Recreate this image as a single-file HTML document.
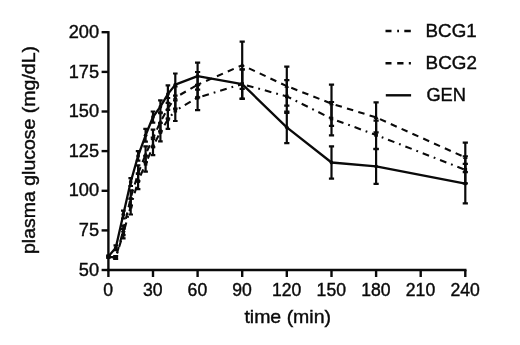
<!DOCTYPE html>
<html><head><meta charset="utf-8"><title>plasma glucose</title><style>html,body{margin:0;padding:0;background:#fff}body{width:520px;height:345px;overflow:hidden}</style></head><body>
<svg width="520" height="345" viewBox="0 0 520 345" style="display:block">
<rect width="520" height="345" fill="#fff"/>
<g fill="none" stroke="#0a0a0a" stroke-linejoin="round">
<g stroke-width="2.2"><rect x="106.3" y="254.6" width="4.2" height="4.2" fill="#0a0a0a" stroke="none"/><path d="M115.8 256.1V258.9M113.5 256.1h4.6M113.5 258.9h4.6"/><rect x="113.7" y="255.4" width="4.2" height="4.2" fill="#0a0a0a" stroke="none"/><path d="M123.3 228.8V238.3M121.0 228.8h4.6M121.0 238.3h4.6"/><rect x="121.5" y="231.7" width="3.6" height="3.6" fill="#0a0a0a" stroke="none"/><path d="M130.7 198.7V214.5M128.4 198.7h4.6M128.4 214.5h4.6"/><rect x="128.9" y="204.8" width="3.6" height="3.6" fill="#0a0a0a" stroke="none"/><path d="M138.1 173.3V189.2M135.8 173.3h4.6M135.8 189.2h4.6"/><rect x="136.3" y="179.4" width="3.6" height="3.6" fill="#0a0a0a" stroke="none"/><path d="M145.6 155.9V171.7M143.3 155.9h4.6M143.3 171.7h4.6"/><rect x="143.8" y="162.0" width="3.6" height="3.6" fill="#0a0a0a" stroke="none"/><path d="M153.0 137.7V155.1M150.7 137.7h4.6M150.7 155.1h4.6"/><rect x="151.2" y="144.6" width="3.6" height="3.6" fill="#0a0a0a" stroke="none"/><path d="M160.4 122.9V141.3M158.1 122.9h4.6M158.1 141.3h4.6"/><rect x="158.6" y="130.3" width="3.6" height="3.6" fill="#0a0a0a" stroke="none"/><path d="M167.9 109.9V128.9M165.6 109.9h4.6M165.6 128.9h4.6"/><rect x="166.1" y="117.6" width="3.6" height="3.6" fill="#0a0a0a" stroke="none"/><path d="M175.3 100.4V121.0M173.0 100.4h4.6M173.0 121.0h4.6"/><rect x="173.5" y="108.9" width="3.6" height="3.6" fill="#0a0a0a" stroke="none"/><path d="M197.6 84.9V110.2M195.0 84.9h5.2M195.0 110.2h5.2"/><rect x="195.8" y="95.8" width="3.6" height="3.6" fill="#0a0a0a" stroke="none"/><path d="M242.2 69.5V98.7M239.6 69.5h5.2M239.6 98.7h5.2"/><rect x="240.4" y="82.3" width="3.6" height="3.6" fill="#0a0a0a" stroke="none"/><path d="M286.8 80.1V112.8M284.2 80.1h5.2M284.2 112.8h5.2"/><rect x="285.0" y="94.6" width="3.6" height="3.6" fill="#0a0a0a" stroke="none"/><path d="M331.5 102.0V135.3M328.9 102.0h5.2M328.9 135.3h5.2"/><rect x="329.7" y="116.8" width="3.6" height="3.6" fill="#0a0a0a" stroke="none"/><path d="M376.1 120.7V149.2M373.5 120.7h5.2M373.5 149.2h5.2"/><rect x="374.3" y="133.2" width="3.6" height="3.6" fill="#0a0a0a" stroke="none"/><path d="M465.3 156.4V183.3M462.7 156.4h5.2M462.7 183.3h5.2"/><rect x="463.5" y="168.0" width="3.6" height="3.6" fill="#0a0a0a" stroke="none"/><rect x="106.3" y="254.6" width="4.2" height="4.2" fill="#0a0a0a" stroke="none"/><path d="M115.8 256.1V258.9M113.5 256.1h4.6M113.5 258.9h4.6"/><rect x="113.7" y="255.4" width="4.2" height="4.2" fill="#0a0a0a" stroke="none"/><path d="M123.3 225.6V235.1M121.0 225.6h4.6M121.0 235.1h4.6"/><path d="M123.3 227.8l2.4 4.2h-4.8z" fill="#0a0a0a" stroke="none"/><path d="M130.7 190.3V205.5M128.4 190.3h4.6M128.4 205.5h4.6"/><path d="M130.7 195.3l2.4 4.2h-4.8z" fill="#0a0a0a" stroke="none"/><path d="M138.1 165.4V181.2M135.8 165.4h4.6M135.8 181.2h4.6"/><path d="M138.1 170.7l2.4 4.2h-4.8z" fill="#0a0a0a" stroke="none"/><path d="M145.6 146.4V162.2M143.3 146.4h4.6M143.3 162.2h4.6"/><path d="M145.6 151.7l2.4 4.2h-4.8z" fill="#0a0a0a" stroke="none"/><path d="M153.0 129.7V147.2M150.7 129.7h4.6M150.7 147.2h4.6"/><path d="M153.0 135.8l2.4 4.2h-4.8z" fill="#0a0a0a" stroke="none"/><path d="M160.4 112.3V131.3M158.1 112.3h4.6M158.1 131.3h4.6"/><path d="M160.4 119.2l2.4 4.2h-4.8z" fill="#0a0a0a" stroke="none"/><path d="M167.9 98.0V118.6M165.6 98.0h4.6M165.6 118.6h4.6"/><path d="M167.9 105.7l2.4 4.2h-4.8z" fill="#0a0a0a" stroke="none"/><path d="M175.3 86.5V108.6M173.0 86.5h4.6M173.0 108.6h4.6"/><path d="M175.3 95.0l2.4 4.2h-4.8z" fill="#0a0a0a" stroke="none"/><path d="M197.6 72.0V97.4M195.0 72.0h5.2M195.0 97.4h5.2"/><path d="M197.6 82.1l2.4 4.2h-4.8z" fill="#0a0a0a" stroke="none"/><path d="M242.2 41.6V88.8M239.6 41.6h5.2M239.6 88.8h5.2"/><path d="M242.2 62.6l2.4 4.2h-4.8z" fill="#0a0a0a" stroke="none"/><path d="M286.8 66.6V105.6M284.2 66.6h5.2M284.2 105.6h5.2"/><path d="M286.8 83.5l2.4 4.2h-4.8z" fill="#0a0a0a" stroke="none"/><path d="M331.5 84.6V125.8M328.9 84.6h5.2M328.9 125.8h5.2"/><path d="M331.5 101.0l2.4 4.2h-4.8z" fill="#0a0a0a" stroke="none"/><path d="M376.1 102.3V132.4M373.5 102.3h5.2M373.5 132.4h5.2"/><path d="M376.1 114.8l2.4 4.2h-4.8z" fill="#0a0a0a" stroke="none"/><path d="M465.3 142.7V172.2M462.7 142.7h5.2M462.7 172.2h5.2"/><path d="M465.3 154.9l2.4 4.2h-4.8z" fill="#0a0a0a" stroke="none"/><circle cx="108.4" cy="256.4" r="1.9" fill="#0a0a0a" stroke="none"/><path d="M115.8 245.4V250.2M113.5 245.4h4.6M113.5 250.2h4.6"/><circle cx="115.8" cy="247.8" r="1.9" fill="#0a0a0a" stroke="none"/><path d="M123.3 210.6V218.5M121.0 210.6h4.6M121.0 218.5h4.6"/><circle cx="123.3" cy="214.5" r="1.9" fill="#0a0a0a" stroke="none"/><path d="M130.7 178.1V186.0M128.4 178.1h4.6M128.4 186.0h4.6"/><circle cx="130.7" cy="182.0" r="1.9" fill="#0a0a0a" stroke="none"/><path d="M138.1 151.1V160.6M135.8 151.1h4.6M135.8 160.6h4.6"/><circle cx="138.1" cy="155.9" r="1.9" fill="#0a0a0a" stroke="none"/><path d="M145.6 128.9V141.6M143.3 128.9h4.6M143.3 141.6h4.6"/><circle cx="145.6" cy="135.3" r="1.9" fill="#0a0a0a" stroke="none"/><path d="M153.0 111.5V122.6M150.7 111.5h4.6M150.7 122.6h4.6"/><circle cx="153.0" cy="117.0" r="1.9" fill="#0a0a0a" stroke="none"/><path d="M160.4 100.4V113.1M158.1 100.4h4.6M158.1 113.1h4.6"/><circle cx="160.4" cy="106.7" r="1.9" fill="#0a0a0a" stroke="none"/><path d="M167.9 85.3V102.8M165.6 85.3h4.6M165.6 102.8h4.6"/><circle cx="167.9" cy="94.1" r="1.9" fill="#0a0a0a" stroke="none"/><path d="M175.3 73.5V95.7M173.0 73.5h4.6M173.0 95.7h4.6"/><circle cx="175.3" cy="84.6" r="1.9" fill="#0a0a0a" stroke="none"/><path d="M197.6 62.7V89.6M195.0 62.7h5.2M195.0 89.6h5.2"/><circle cx="197.6" cy="76.2" r="1.9" fill="#0a0a0a" stroke="none"/><path d="M242.2 69.3V98.8M239.6 69.3h5.2M239.6 98.8h5.2"/><circle cx="242.2" cy="84.1" r="1.9" fill="#0a0a0a" stroke="none"/><path d="M286.8 111.5V143.2M284.2 111.5h5.2M284.2 143.2h5.2"/><circle cx="286.8" cy="127.3" r="1.9" fill="#0a0a0a" stroke="none"/><path d="M331.5 146.4V178.7M328.9 146.4h5.2M328.9 178.7h5.2"/><circle cx="331.5" cy="162.5" r="1.9" fill="#0a0a0a" stroke="none"/><path d="M376.1 148.9V183.8M373.5 148.9h5.2M373.5 183.8h5.2"/><circle cx="376.1" cy="166.3" r="1.9" fill="#0a0a0a" stroke="none"/><path d="M465.3 163.8V203.4M462.7 163.8h5.2M462.7 203.4h5.2"/><circle cx="465.3" cy="183.6" r="1.9" fill="#0a0a0a" stroke="none"/></g>
<g stroke-width="2.1"><polyline stroke-dasharray="6.8 5 1.8 5" points="108.4,256.7 115.8,257.5 123.3,233.5 130.7,206.6 138.1,181.2 145.6,163.8 153.0,146.4 160.4,132.1 167.9,119.4 175.3,110.7"/><path d="M175.3 110.7L197.6 97.6" stroke-dasharray="6.8 5 1.8 5" stroke-dashoffset="7.59"/><path d="M197.6 97.6L242.2 84.1" stroke-dasharray="6.8 5 1.8 5" stroke-dashoffset="13.61"/><path d="M242.2 84.1L286.8 96.4" stroke-dasharray="6.8 5 1.8 5" stroke-dashoffset="13.75"/><path d="M286.8 96.4L331.5 118.6" stroke-dasharray="6.8 5 1.8 5" stroke-dashoffset="2.00"/><path d="M331.5 118.6L376.1 135.0" stroke-dasharray="6.8 5 1.8 5" stroke-dashoffset="12.65"/><path d="M376.1 135.0L465.3 169.8" stroke-dasharray="6.8 5 1.8 5" stroke-dashoffset="5.78"/></g>
<g stroke-width="2.1"><polyline stroke-dasharray="6.5 5.35" points="108.4,256.7 115.8,257.5 123.3,230.4 130.7,197.9 138.1,173.3 145.6,154.3 153.0,138.4 160.4,121.8 167.9,108.3 175.3,97.6"/><path d="M175.3 97.6L197.6 84.7" stroke-dasharray="6.5 5.35" stroke-dashoffset="6.21"/><path d="M197.6 84.7L242.2 65.2" stroke-dasharray="6.5 5.35" stroke-dashoffset="2.60"/><path d="M242.2 65.2L286.8 86.1" stroke-dasharray="6.5 5.35" stroke-dashoffset="4.37"/><path d="M286.8 86.1L331.5 103.6" stroke-dasharray="6.5 5.35" stroke-dashoffset="7.06"/><path d="M331.5 103.6L376.1 117.4" stroke-dasharray="6.5 5.35" stroke-dashoffset="7.51"/><path d="M376.1 117.4L465.3 157.5" stroke-dasharray="6.5 5.35" stroke-dashoffset="7.59"/></g>
<polyline stroke-width="2.3" points="108.4,256.4 115.8,247.8 123.3,214.5 130.7,182.0 138.1,155.9 145.6,135.3 153.0,117.0 160.4,106.7 167.9,94.1 175.3,84.6 197.6,76.2 242.2,84.1 286.8,127.3 331.5,162.5 376.1,166.3 465.3,183.6"/>
</g>
<g stroke="#0a0a0a" stroke-width="2.4" fill="none"><path d="M108.4 31.1V271.2"/><path d="M107.2 270.0H466.5"/><path d="M108.4 270.0h-6.8"/><path d="M108.4 230.4h-6.8"/><path d="M108.4 190.8h-6.8"/><path d="M108.4 151.1h-6.8"/><path d="M108.4 111.5h-6.8"/><path d="M108.4 71.9h-6.8"/><path d="M108.4 32.2h-6.8"/><path d="M108.4 270.0v7"/><path d="M153.0 270.0v7"/><path d="M197.6 270.0v7"/><path d="M242.2 270.0v7"/><path d="M286.8 270.0v7"/><path d="M331.5 270.0v7"/><path d="M376.1 270.0v7"/><path d="M420.7 270.0v7"/><path d="M465.3 270.0v7"/></g>
<g font-family="Liberation Sans, Arial, Helvetica, sans-serif" font-size="18" fill="#0a0a0a" stroke="#0a0a0a" stroke-width="0.4">
<text x="99.1" y="275.7" text-anchor="end" font-size="18.2">50</text>
<text x="99.1" y="236.1" text-anchor="end" font-size="18.2">75</text>
<text x="99.1" y="196.4" text-anchor="end" font-size="18.2">100</text>
<text x="99.1" y="156.8" text-anchor="end" font-size="18.2">125</text>
<text x="99.1" y="117.2" text-anchor="end" font-size="18.2">150</text>
<text x="99.1" y="77.6" text-anchor="end" font-size="18.2">175</text>
<text x="99.1" y="38.0" text-anchor="end" font-size="18.2">200</text>
<text x="108.2" y="295.8" text-anchor="middle" font-size="17.6">0</text>
<text x="152.8" y="295.8" text-anchor="middle" font-size="17.6">30</text>
<text x="197.4" y="295.8" text-anchor="middle" font-size="17.6">60</text>
<text x="242.0" y="295.8" text-anchor="middle" font-size="17.6">90</text>
<text x="286.6" y="295.8" text-anchor="middle" font-size="17.6">120</text>
<text x="331.3" y="295.8" text-anchor="middle" font-size="17.6">150</text>
<text x="375.9" y="295.8" text-anchor="middle" font-size="17.6">180</text>
<text x="420.5" y="295.8" text-anchor="middle" font-size="17.6">210</text>
<text x="465.1" y="295.8" text-anchor="middle" font-size="17.6">240</text>
<text transform="translate(287.7,323.2) scale(1.06,1)" text-anchor="middle" font-size="18.4">time (min)</text>
<text transform="translate(35.3,150) rotate(-90) scale(1.06,1)" text-anchor="middle" font-size="18.4">plasma glucose (mg/dL)</text>
<text transform="translate(425.6,37.1) scale(1.025,1)" font-size="18.3">BCG1</text>
<text transform="translate(425.6,68.7) scale(1.03,1)" font-size="18.3">BCG2</text>
<text x="426.4" y="101.0" font-size="18.3">GEN</text>
</g>
<g fill="none" stroke="#0a0a0a" stroke-width="2.5">
<path d="M385.5 31h25.3" stroke-dasharray="6 5.7 1.8 5.3 6.5 9"/>
<path d="M385.5 63.2h25.4" stroke-dasharray="6 5.7 6.3 5.3 2.2 9"/>
<path d="M385.8 95.3h25.3" stroke-width="2.4"/>
</g>
</svg>
</body></html>
